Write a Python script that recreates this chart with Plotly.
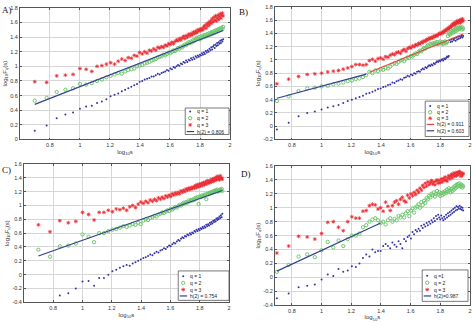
import numpy as np
import plotly.graph_objects as go

# window sizes s (the x axis shows log10 s)
window_sizes = list(range(5, 91))

# ---- panel A: log10 Fq(s) for q = 1, 2, 3 ----
a_q1 = [0.12, 0.19, 0.29, 0.34, 0.37, 0.42, 0.45, 0.46, 0.50, 0.52,
        0.55, 0.59, 0.61, 0.63, 0.66, 0.68, 0.70, 0.72, 0.74, 0.76,
        0.79, 0.80, 0.82, 0.83, 0.84, 0.86, 0.86, 0.88, 0.90, 0.89,
        0.91, 0.92, 0.93, 0.95, 0.94, 0.97, 0.96, 0.99, 0.98, 1.00,
        1.02, 1.01, 1.04, 1.03, 1.06, 1.05, 1.08, 1.06, 1.09, 1.08,
        1.11, 1.09, 1.12, 1.10, 1.14, 1.12, 1.15, 1.13, 1.16, 1.15,
        1.18, 1.16, 1.19, 1.17, 1.21, 1.19, 1.22, 1.20, 1.24, 1.22,
        1.26, 1.23, 1.27, 1.29, 1.25, 1.30, 1.28, 1.32, 1.29, 1.33,
        1.31, 1.35, 1.32, 1.36, 1.34, 1.37]
a_q2 = [0.53, 0.57, 0.65, 0.68, 0.70, 0.76, 0.75, 0.77, 0.80, 0.82,
        0.85, 0.87, 0.89, 0.91, 0.90, 0.93, 0.95, 0.96, 0.97, 1.00,
        1.01, 1.02, 1.04, 1.05, 1.06, 1.08, 1.09, 1.10, 1.12, 1.13,
        1.14, 1.16, 1.15, 1.17, 1.19, 1.18, 1.20, 1.22, 1.21, 1.23,
        1.25, 1.24, 1.27, 1.26, 1.28, 1.30, 1.29, 1.31, 1.33, 1.32,
        1.34, 1.33, 1.36, 1.35, 1.37, 1.39, 1.38, 1.40, 1.37, 1.41,
        1.39, 1.42, 1.40, 1.43, 1.41, 1.44, 1.42, 1.45, 1.43, 1.46,
        1.44, 1.47, 1.45, 1.48, 1.46, 1.49, 1.47, 1.50, 1.48, 1.51,
        1.49, 1.52, 1.50, 1.53, 1.51, 1.54]
a_q3 = [0.79, 0.78, 0.87, 0.88, 0.89, 0.97, 0.96, 0.93, 1.00, 1.01,
        1.03, 1.05, 1.03, 1.07, 1.10, 1.08, 1.12, 1.11, 1.15, 1.14,
        1.19, 1.17, 1.20, 1.18, 1.22, 1.21, 1.24, 1.22, 1.26, 1.25,
        1.27, 1.26, 1.29, 1.28, 1.31, 1.30, 1.33, 1.31, 1.34, 1.36,
        1.35, 1.38, 1.36, 1.39, 1.41, 1.38, 1.42, 1.40, 1.44, 1.42,
        1.45, 1.43, 1.47, 1.45, 1.48, 1.46, 1.50, 1.48, 1.51, 1.49,
        1.52, 1.50, 1.54, 1.56, 1.52, 1.58, 1.55, 1.60, 1.57, 1.62,
        1.59, 1.65, 1.61, 1.67, 1.63, 1.69, 1.62, 1.66, 1.70, 1.64,
        1.68, 1.72, 1.66, 1.70, 1.73, 1.69]

# ---- panel B ----
b_q1 = [-0.05, 0.05, 0.15, 0.20, 0.22, 0.25, 0.28, 0.30, 0.32, 0.35,
        0.38, 0.40, 0.42, 0.44, 0.46, 0.49, 0.50, 0.52, 0.54, 0.56,
        0.57, 0.59, 0.60, 0.62, 0.63, 0.66, 0.65, 0.68, 0.69, 0.71,
        0.70, 0.73, 0.74, 0.76, 0.75, 0.78, 0.77, 0.80, 0.79, 0.82,
        0.83, 0.82, 0.85, 0.87, 0.86, 0.89, 0.88, 0.90, 0.92, 0.91,
        0.93, 0.92, 0.95, 0.94, 0.96, 0.98, 0.97, 0.99, 0.98, 1.00,
        1.01, 0.99, 1.02, 1.01, 1.03, 1.05, 1.04, 1.06, 1.30, 1.27,
        1.31, 1.28, 1.32, 1.30, 1.33, 1.29, 1.34, 1.31, 1.35, 1.32,
        1.36, 1.33, 1.35, 1.37, 1.34, 1.36]
b_q2 = [0.38, 0.45, 0.53, 0.57, 0.58, 0.60, 0.61, 0.63, 0.64, 0.66,
        0.68, 0.69, 0.71, 0.72, 0.74, 0.77, 0.82, 0.80, 0.84, 0.83,
        0.86, 0.85, 0.88, 0.87, 0.90, 0.93, 0.95, 0.94, 0.97, 0.99,
        1.00, 0.98, 1.02, 1.04, 1.03, 1.06, 1.05, 1.08, 1.10, 1.09,
        1.12, 1.14, 1.13, 1.16, 1.18, 1.17, 1.20, 1.22, 1.21, 1.24,
        1.23, 1.25, 1.24, 1.26, 1.25, 1.27, 1.24, 1.26, 1.28, 1.25,
        1.27, 1.24, 1.26, 1.28, 1.25, 1.27, 1.36, 1.40, 1.38, 1.42,
        1.40, 1.44, 1.41, 1.45, 1.43, 1.47, 1.44, 1.48, 1.46, 1.49,
        1.47, 1.50, 1.48, 1.46, 1.49, 1.47]
b_q3 = [0.64, 0.71, 0.75, 0.78, 0.79, 0.80, 0.82, 0.83, 0.84, 0.86,
        0.88, 0.90, 0.93, 0.93, 0.92, 0.93, 0.99, 1.01, 0.98, 1.02,
        1.03, 1.01, 1.05, 1.04, 1.07, 1.09, 1.08, 1.11, 1.12, 1.10,
        1.14, 1.16, 1.13, 1.17, 1.19, 1.18, 1.21, 1.20, 1.23, 1.22,
        1.25, 1.24, 1.27, 1.26, 1.29, 1.28, 1.31, 1.30, 1.33, 1.32,
        1.34, 1.33, 1.36, 1.35, 1.37, 1.36, 1.38, 1.40, 1.39, 1.41,
        1.40, 1.43, 1.42, 1.45, 1.44, 1.47, 1.46, 1.49, 1.48, 1.51,
        1.50, 1.53, 1.55, 1.52, 1.56, 1.54, 1.58, 1.55, 1.59, 1.57,
        1.60, 1.56, 1.61, 1.58, 1.62, 1.59]

# ---- panel C ----
c_q1 = [-0.55, -0.45, -0.30, -0.27, -0.20, -0.10, -0.09, -0.16, -0.05, -0.05,
        0.00, 0.05, 0.07, 0.10, 0.12, 0.14, 0.13, 0.16, 0.18, 0.20,
        0.22, 0.24, 0.25, 0.27, 0.29, 0.28, 0.31, 0.33, 0.32, 0.35,
        0.36, 0.38, 0.37, 0.40, 0.42, 0.41, 0.44, 0.46, 0.45, 0.48,
        0.50, 0.49, 0.52, 0.54, 0.53, 0.56, 0.55, 0.58, 0.57, 0.60,
        0.58, 0.61, 0.60, 0.63, 0.62, 0.65, 0.63, 0.66, 0.64, 0.67,
        0.66, 0.69, 0.67, 0.70, 0.68, 0.72, 0.70, 0.73, 0.71, 0.75,
        0.73, 0.76, 0.74, 0.78, 0.76, 0.79, 0.77, 0.81, 0.79, 0.82,
        0.80, 0.84, 0.82, 0.86, 0.83, 0.88]
c_q2 = [0.36, 0.26, 0.41, 0.42, 0.45, 0.58, 0.55, 0.47, 0.60, 0.60,
        0.63, 0.65, 0.66, 0.68, 0.70, 0.69, 0.71, 0.73, 0.72, 0.75,
        0.73, 0.78, 0.80, 0.79, 0.82, 0.83, 0.85, 0.84, 0.87, 0.88,
        0.90, 0.89, 0.91, 0.93, 0.92, 0.95, 0.94, 0.96, 0.98, 0.97,
        0.99, 1.01, 1.00, 1.02, 1.04, 1.03, 1.05, 1.04, 1.07, 1.06,
        1.08, 1.07, 1.09, 1.08, 1.11, 1.10, 1.12, 1.02, 1.13, 1.12,
        1.14, 1.13, 1.15, 1.14, 1.16, 1.09, 1.17, 1.16, 1.18, 1.17,
        1.19, 1.18, 1.20, 1.19, 1.21, 1.20, 1.22, 1.21, 1.23, 1.20,
        1.22, 1.21, 1.23, 1.22, 1.24, 1.21]
c_q3 = [0.72, 0.62, 0.78, 0.75, 0.77, 0.90, 0.87, 0.79, 0.90, 0.90,
        0.93, 0.91, 0.95, 0.94, 0.96, 0.93, 0.98, 1.00, 0.97, 1.02,
        1.05, 1.03, 1.06, 1.04, 1.08, 1.06, 1.09, 1.07, 1.11, 1.09,
        1.12, 1.10, 1.14, 1.12, 1.15, 1.13, 1.17, 1.15, 1.18, 1.16,
        1.19, 1.17, 1.21, 1.19, 1.22, 1.20, 1.24, 1.22, 1.25, 1.23,
        1.26, 1.24, 1.27, 1.25, 1.29, 1.26, 1.30, 1.27, 1.31, 1.28,
        1.32, 1.29, 1.33, 1.30, 1.34, 1.31, 1.36, 1.32, 1.35, 1.33,
        1.37, 1.34, 1.38, 1.35, 1.39, 1.36, 1.40, 1.37, 1.42, 1.38,
        1.41, 1.37, 1.43, 1.39, 1.40, 1.38]

# ---- panel D ----
d_q1 = [-0.30, -0.23, -0.14, -0.12, -0.10, -0.03, 0.04, 0.02, 0.12, 0.08,
        0.10, 0.16, 0.15, 0.20, 0.28, 0.33, 0.30, 0.40, 0.36, 0.38,
        0.38, 0.45, 0.48, 0.45, 0.42, 0.50, 0.47, 0.44, 0.52, 0.48,
        0.42, 0.55, 0.52, 0.58, 0.60, 0.56, 0.65, 0.62, 0.68, 0.66,
        0.70, 0.67, 0.74, 0.71, 0.76, 0.73, 0.78, 0.75, 0.80, 0.77,
        0.82, 0.79, 0.85, 0.81, 0.88, 0.84, 0.90, 0.86, 0.83, 0.89,
        0.85, 0.82, 0.87, 0.84, 0.90, 0.86, 0.92, 0.88, 0.94, 0.90,
        0.96, 0.92, 0.98, 0.94, 1.00, 0.96, 1.02, 0.97, 1.01, 0.99,
        1.03, 0.98, 1.01, 0.97, 1.00, 0.96]
d_q2 = [0.08, 0.18, 0.30, 0.33, 0.29, 0.39, 0.51, 0.43, 0.53, 0.45,
        0.55, 0.60, 0.60, 0.63, 0.72, 0.75, 0.80, 0.83, 0.85, 0.82,
        0.78, 0.80, 0.76, 0.82, 0.85, 0.80, 0.84, 0.82, 0.88, 0.86,
        0.90, 0.86, 0.92, 0.95, 0.88, 0.96, 0.99, 0.93, 1.00, 1.02,
        1.05, 1.00, 1.08, 1.04, 1.10, 1.07, 1.14, 1.12, 1.17, 1.15,
        1.20, 1.18, 1.22, 1.16, 1.20, 1.24, 1.19, 1.22, 1.17, 1.21,
        1.18, 1.22, 1.20, 1.24, 1.21, 1.26, 1.23, 1.28, 1.25, 1.22,
        1.27, 1.24, 1.29, 1.26, 1.31, 1.28, 1.33, 1.30, 1.34, 1.31,
        1.35, 1.32, 1.30, 1.33, 1.29, 1.31]
d_q3 = [0.35, 0.45, 0.59, 0.58, 0.55, 0.63, 0.79, 0.80, 0.72, 0.67,
        0.80, 0.87, 0.85, 0.85, 0.95, 0.96, 1.03, 1.05, 1.04, 0.98,
        1.00, 0.95, 1.08, 1.02, 0.96, 1.03, 1.08, 1.10, 1.05, 1.12,
        1.15, 1.10, 1.08, 1.18, 1.14, 1.20, 1.17, 1.22, 1.19, 1.25,
        1.22, 1.28, 1.25, 1.32, 1.29, 1.35, 1.31, 1.37, 1.33, 1.36,
        1.39, 1.34, 1.37, 1.33, 1.38, 1.40, 1.35, 1.39, 1.36, 1.41,
        1.37, 1.42, 1.39, 1.44, 1.40, 1.38, 1.43, 1.46, 1.41, 1.45,
        1.48, 1.43, 1.47, 1.50, 1.45, 1.49, 1.46, 1.51, 1.47, 1.50,
        1.52, 1.48, 1.45, 1.50, 1.47, 1.49]

# fitted scaling lines: (slope h(2), intercept, first s, last s)
fit_a = [(0.806, -0.084, 5, 90)]
fit_b = [(0.911, -0.390, 21, 90), (0.603, 0.000, 5, 20)]
fit_c = [(0.754, -0.258, 5, 90)]
fit_d = [(0.987, -0.600, 5, 25)]

# legend texts
legend_a = ["q = 1", "q = 2", "q = 3", "h(2) = 0.806"]
legend_b = ["q = 1", "q = 2", "q = 3", "h(2) = 0.911", "h(2) = 0.603"]
legend_c = ["q = 1", "q = 2", "q = 3", "h(2) = 0.754"]
legend_d = ["q =1", "q = 2", "q = 3", "h(2)=0.987"]

# ---------------------------------------------------------------------------
W, H = 474, 323
BLUE = "#3434a8"
GREEN = "#6cc86c"
RED = "#ea2a30"
LINE_BLUE = "#34408f"
LINE_RED = "#e4473d"
FONT = "Liberation Sans, Arial, sans-serif"

logs = np.log10(np.array(window_sizes, dtype=float))


def px_dom(a, b, total, flip=False):
    if flip:
        return [1 - b / total, 1 - a / total]
    return [a / total, b / total]


def fmt(v):
    s = f"{v:.1f}"
    if s.endswith(".0"):
        s = s[:-2]
    if s == "-0":
        s = "0"
    return s


panels = [
    dict(tag="A)", ax="", series=(a_q1, a_q2, a_q3), fits=fit_a,
         fitcol=[LINE_BLUE], legend=legend_a,
         xdom=(20, 231), ydom=(5, 139), xr=(0.6, 2.0), yr=(0.0, 1.8),
         label_xy=(0, 0), box=(186, 107, 230, 134), rows=(110.5, 117.3, 124.2, 131)),
    dict(tag="B)", ax="2", series=(b_q1, b_q2, b_q3), fits=fit_b,
         fitcol=[LINE_RED, LINE_BLUE], legend=legend_b,
         xdom=(276, 472), ydom=(4, 139), xr=(0.685, 2.0), yr=(-0.2, 1.8),
         label_xy=(238, 2), box=(427, 100, 471, 136), rows=(105, 111.3, 117.5, 123.7, 130.2)),
    dict(tag="C)", ax="3", series=(c_q1, c_q2, c_q3), fits=fit_c,
         fitcol=[LINE_BLUE], legend=legend_c,
         xdom=(24, 230), ydom=(164, 305), xr=(0.6, 2.0), yr=(-0.4, 1.6),
         label_xy=(0, 163), box=(179, 273, 230, 303), rows=(278.3, 285.2, 292, 298.5)),
    dict(tag="D)", ax="4", series=(d_q1, d_q2, d_q3), fits=fit_d,
         fitcol=[LINE_BLUE], legend=legend_d,
         xdom=(276, 472), ydom=(166, 308), xr=(0.685, 2.0), yr=(-0.4, 1.6),
         label_xy=(240, 167), box=(424, 272, 470, 304), rows=(277.8, 285, 292, 298.5)),
]

fig = go.Figure()
layout = dict(
    width=W, height=H, autosize=False,
    margin=dict(l=0, r=0, t=0, b=0),
    paper_bgcolor="white", plot_bgcolor="rgba(0,0,0,0)",
    showlegend=False, font=dict(family=FONT, size=6, color="#333"),
    annotations=[], shapes=[],
)

marker_q1 = dict(symbol="circle", size=2.0, color=BLUE, line=dict(width=0))
marker_q2 = dict(symbol="circle-open", size=3.3, color=GREEN, line=dict(width=1.0, color=GREEN))
marker_q3 = dict(symbol="asterisk-open", size=3.2, color=RED, line=dict(width=0.8, color=RED))
markers = [marker_q1, marker_q2, marker_q3]

for p in panels:
    xa = "x" + p["ax"]
    ya = "y" + p["ax"]
    for vals, mk in zip(p["series"], markers):
        fig.add_trace(go.Scatter(x=logs, y=vals, mode="markers", marker=mk,
                                 xaxis=xa, yaxis=ya, hoverinfo="skip"))
    for (h2, b0, s0, s1), col in zip(p["fits"], p["fitcol"]):
        xs = np.log10(np.array([s0, s1], dtype=float))
        fig.add_trace(go.Scatter(x=xs, y=h2 * xs + b0, mode="lines",
                                 line=dict(color=col, width=1.2),
                                 xaxis=xa, yaxis=ya, hoverinfo="skip"))

    xticks = [0.8, 1.0, 1.2, 1.4, 1.6, 1.8, 2.0]
    y0, y1 = p["yr"]
    yticks = [round(y0 + 0.2 * k, 1) for k in range(int(round((y1 - y0) / 0.2)) + 1)]
    common = dict(showgrid=True, gridcolor="#d6d6d6", gridwidth=0.6,
                  showline=True, linecolor="#555", linewidth=0.8, mirror="ticks",
                  ticks="inside", ticklen=2, tickcolor="#555", zeroline=False,
                  tickfont=dict(size=5.5, color="#333", family=FONT),
                  fixedrange=True)
    key = p["ax"]
    layout["xaxis" + key] = dict(
        common, domain=px_dom(*p["xdom"], W), range=list(p["xr"]),
        anchor="y" + key, tickvals=xticks, ticktext=[fmt(t) for t in xticks],
        title=dict(text="log<sub>10</sub>s", font=dict(size=6, family=FONT), standoff=2))
    layout["yaxis" + key] = dict(
        common, domain=px_dom(*p["ydom"], H, flip=True), range=list(p["yr"]),
        anchor="x" + key, tickvals=yticks, ticktext=[fmt(t) for t in yticks],
        title=dict(text="log<sub>10</sub>F<sub>q</sub>(s)", font=dict(size=6, family=FONT), standoff=2))

# full-figure pixel canvas used for the legend boxes and panel labels
layout["xaxis5"] = dict(domain=[0, 1], range=[0, W], visible=False, anchor="y5", fixedrange=True)
layout["yaxis5"] = dict(domain=[0, 1], range=[H, 0], visible=False, anchor="x5", fixedrange=True)

for p in panels:
    bx0, by0, bx1, by1 = p["box"]
    fig.add_trace(go.Scatter(x=[bx0, bx1, bx1, bx0, bx0], y=[by0, by0, by1, by1, by0],
                             mode="lines", fill="toself", fillcolor="white",
                             line=dict(color="#555", width=0.8),
                             xaxis="x5", yaxis="y5", hoverinfo="skip"))
    mx = bx0 + 5
    tx = bx0 + 10
    for i, text in enumerate(p["legend"]):
        ry = p["rows"][i]
        if i < 3:
            fig.add_trace(go.Scatter(x=[mx], y=[ry], mode="markers", marker=markers[i],
                                     xaxis="x5", yaxis="y5", hoverinfo="skip"))
        else:
            col = p["fitcol"][i - 3]
            fig.add_trace(go.Scatter(x=[bx0 + 1.5, bx0 + 9], y=[ry, ry], mode="lines",
                                     line=dict(color=col, width=1.2),
                                     xaxis="x5", yaxis="y5", hoverinfo="skip"))
        layout["annotations"].append(dict(
            x=tx, y=ry, xref="x5", yref="y5", text=text, showarrow=False,
            xanchor="left", yanchor="middle", font=dict(size=5, color="#222", family=FONT)))
    lx, ly = p["label_xy"]
    layout["annotations"].append(dict(
        x=lx, y=ly, xref="x5", yref="y5", text=p["tag"], showarrow=False,
        xanchor="left", yanchor="top",
        font=dict(size=9, color="#111", family="Liberation Serif, Times New Roman, serif")))

fig.update_layout(**layout)
fig.write_html("out.html")
